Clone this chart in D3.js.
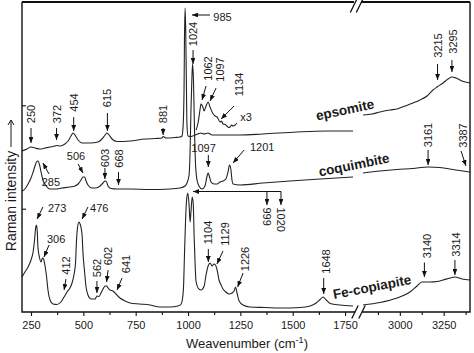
<!DOCTYPE html>
<html>
<head>
<meta charset="utf-8">
<script src="https://cdn.jsdelivr.net/npm/d3@7"></script>
<style>
  body { margin: 0; background: #fff; }
  svg { display: block; font-family: 'Liberation Sans', Arial, sans-serif; }
</style>
</head>
<body>
<svg id="chart" width="474" height="353"></svg>
<script>
// broken wavenumber axis: two segments
const lowDomain = [207, 1788];
const highDomain = [2790, 3400];
const lowTicks = [250, 500, 750, 1000, 1250, 1500, 1750];
const lowMinor = [375, 625, 875, 1125, 1375, 1625];
const highTicks = [3000, 3250];
const highMinor = [2875, 3125, 3375];
const intensityTicks = [103.3, 206.7];

// spectra: [wavenumber, intensity (a.u., stacked)]
const epsomiteLow = [
  [207, 161], [231, 163], [250, 165], [269, 164], [293, 163], [317, 164], [341, 165], [365, 166],
  [374, 166.5], [389, 166], [412, 168], [427, 171], [441, 176], [451, 179], [460, 177], [475, 172],
  [494, 169], [532, 169], [570, 170], [589, 173], [604, 177], [613, 179], [623, 177], [637, 173],
  [661, 170.5], [723, 171], [795, 173], [847, 173.5], [876, 174], [881, 175.5], [895, 174],
  [938, 174.5], [962, 175], [971, 176], [976, 184], [981, 222], [983, 272], [986, 304], [989, 282],
  [992, 232], [995, 187], [1000, 176], [1014, 175.5], [1034, 177], [1048, 178], [1062, 179],
  [1077, 178], [1096, 179], [1115, 177], [1153, 177], [1249, 177], [1358, 178], [1521, 180],
  [1664, 181], [1788, 181]
];
const epsomiteInset = [
  [1038, 182], [1048, 189], [1057, 202], [1062, 208], [1069, 206], [1077, 201], [1086, 206],
  [1096, 210], [1105, 205], [1120, 198], [1129, 196], [1139, 195], [1153, 190], [1160, 191],
  [1167, 188], [1177, 187.5], [1186, 186], [1194, 184.5], [1201, 185], [1208, 187], [1215, 186],
  [1225, 187], [1234, 189]
];
const epsomiteHigh = [
  [2790, 197], [2841, 198], [2887, 200], [2944, 202], [2984, 203], [3029, 206], [3075, 209],
  [3115, 212], [3155, 216], [3189, 222], [3212, 225], [3246, 229], [3275, 233], [3297, 235],
  [3320, 234], [3354, 231], [3400, 229]
];
const coquimbiteLow = [
  [207, 121], [221, 123], [236, 128], [250, 134], [260, 140], [269, 146], [276, 150], [283, 151],
  [291, 147], [298, 140], [307, 132], [322, 126], [341, 123], [365, 123], [398, 124], [436, 125],
  [460, 126], [475, 128], [489, 132], [498, 135], [506, 135], [513, 131], [522, 127], [541, 124],
  [560, 124], [580, 126], [594, 129], [604, 131], [611, 130], [618, 126], [632, 123.5], [661, 123],
  [723, 123], [818, 122.5], [914, 123], [962, 124], [986, 126], [995, 129], [1005, 137],
  [1010, 162], [1014, 202], [1019, 237], [1022, 248], [1026, 232], [1031, 182], [1036, 147],
  [1043, 132], [1052, 126], [1067, 123], [1081, 126], [1091, 136], [1096, 139], [1100, 137],
  [1110, 130], [1124, 128], [1139, 128], [1153, 130], [1167, 131], [1181, 133], [1191, 140],
  [1198, 147], [1205, 142], [1210, 132], [1215, 128], [1249, 127], [1358, 129], [1487, 131],
  [1630, 133], [1788, 135]
];
const coquimbiteHigh = [
  [2790, 139], [2887, 141], [2984, 142.5], [3075, 143.5], [3161, 145], [3229, 144.5],
  [3303, 142.5], [3360, 141], [3400, 140]
];
const copiapiteLow = [
  [207, 35], [221, 40], [236, 45], [250, 52], [260, 60], [267, 72], [272, 84], [276, 87], [280, 80],
  [283, 65], [291, 54], [298, 50], [305, 54], [310, 53], [317, 46], [324, 36], [331, 22], [341, 12],
  [355, 8], [374, 7.5], [393, 10], [408, 15], [422, 20], [436, 24], [446, 29], [455, 37], [463, 50],
  [467, 70], [472, 84], [479, 90], [486, 87], [494, 77], [498, 60], [506, 40], [513, 25], [522, 17],
  [537, 13], [556, 13], [565, 16], [575, 15.5], [584, 19], [594, 23], [604, 26], [611, 26],
  [618, 24], [627, 22], [642, 21], [656, 18], [675, 14], [699, 11], [723, 9], [771, 8], [818, 7],
  [866, 5], [914, 5], [952, 6], [967, 8], [974, 14], [979, 27], [983, 57], [988, 90], [993, 112],
  [999, 119], [1005, 107], [1010, 90], [1014, 100], [1020, 115], [1025, 108], [1029, 77],
  [1034, 47], [1038, 31], [1048, 24], [1062, 22], [1077, 26], [1086, 37], [1096, 46], [1105, 49],
  [1115, 46], [1124, 48], [1131, 47], [1139, 42], [1148, 32], [1158, 27], [1167, 23], [1181, 20],
  [1196, 18], [1210, 19], [1220, 21], [1227, 25], [1234, 19], [1244, 11], [1263, 7], [1296, 5],
  [1368, 4.5], [1440, 4], [1535, 4.5], [1583, 6], [1612, 9], [1631, 12.5], [1645, 15], [1660, 12],
  [1679, 8.5], [1726, 7], [1788, 6]
];
const copiapiteHigh = [
  [2790, 7], [2887, 9.5], [2984, 14], [3058, 20], [3098, 26], [3126, 30], [3172, 30],
  [3212, 30.5], [3246, 32], [3286, 34], [3314, 35], [3354, 33], [3400, 32]
];

// [text, segment, label wn, label intensity, rotation, anchor, tail wn, tail int, head wn, head int]
const peakLabels = [
  ['250', 'low', 250, 198, -90, 'middle', 250, 184, 250, 169],
  ['372', 'low', 372, 198, -90, 'middle', 372, 184, 372, 172],
  ['454', 'low', 454, 209.5, -90, 'middle', 454, 195, 454, 181],
  ['615', 'low', 615, 214, -90, 'middle', 615, 199, 615, 181],
  ['881', 'low', 881, 198, -90, 'middle', 881, 184, 881, 177],
  ['985', 'low', 1121, 295, 0, 'start', 1105, 297, 1019, 297],
  ['1024', 'low', 1024, 278, -90, 'middle', 1024, 262, 1024, 248],
  ['1062', 'low', 1096, 243.5, -90, 'middle', 1086, 226, 1067, 212],
  ['1097', 'low', 1153, 242.5, -90, 'middle', 1134, 224, 1105, 211],
  ['1134', 'low', 1244, 227.5, -90, 'middle', 1220, 206, 1158, 193],
  ['285', 'low', 345, 130, 0, 'middle', 336, 138, 307, 149],
  ['506', 'low', 465, 156, 0, 'middle', 475, 148, 498, 139],
  ['603', 'low', 603, 154, -90, 'middle', 603, 144, 603, 133],
  ['668', 'low', 668, 153.5, -90, 'middle', 668, 140, 668, 127],
  ['1097', 'low', 1074, 164, 0, 'middle', 1097, 157, 1097, 145],
  ['1201', 'low', 1296, 165, 0, 'start', 1268, 162, 1215, 149],
  ['3161', 'high', 3161, 177, -90, 'middle', 3161, 162, 3161, 147],
  ['3387', 'high', 3360, 176.5, -90, 'middle', 3349, 161, 3377, 146],
  ['3215', 'high', 3215, 266.5, -90, 'middle', 3215, 248, 3215, 232],
  ['3295', 'high', 3303, 270.5, -90, 'middle', 3297, 252, 3297, 240],
  ['273', 'low', 331, 104, 0, 'start', 307, 105, 279, 93],
  ['476', 'low', 532, 104.5, 0, 'start', 522, 105, 494, 93],
  ['306', 'low', 326, 73, 0, 'start', 336, 67, 312, 55],
  ['412', 'low', 417, 46.5, -90, 'middle', 417, 33, 408, 22],
  ['562', 'low', 565, 44, -90, 'middle', 565, 31, 565, 19],
  ['602', 'low', 618, 56, -90, 'middle', 618, 42, 611, 30],
  ['641', 'low', 704, 48, -90, 'middle', 685, 34, 661, 22],
  ['1104', 'low', 1097, 79.5, -90, 'middle', 1097, 63, 1097, 50],
  ['1129', 'low', 1177, 78, -90, 'middle', 1167, 61, 1138, 48],
  ['1226', 'low', 1272, 53, -90, 'middle', 1263, 39, 1237, 25],
  ['1648', 'low', 1659, 50.5, -90, 'middle', 1648, 34, 1648, 18],
  ['3140', 'high', 3155, 66, -90, 'middle', 3140, 49.5, 3140, 35],
  ['3314', 'high', 3320, 67.5, -90, 'middle', 3314, 52, 3314, 37]
];
// Fe-copiapite doublet bracket
const bracketLevel = 120.5;
const bracketEnd = 1024;
const bracketDrops = [[1377, '999'], [1444, '1020']];
const speciesLabels = [
  ['epsomite', 1750, 202, -12],
  ['coquimbite', 1793, 147, -11.5],
  ['Fe-copiapite', 1879, 25, -11]
];

const svg = d3.select('#chart');

const xLow = d3.scaleLinear().domain(lowDomain).range([22, 353]);
const xHigh = d3.scaleLinear().domain(highDomain).range([363, 470]);
const y = d3.scaleLinear().domain([0, 310]).range([312, 2]);
const xOf = (seg) => seg === 'high' ? xHigh : xLow;

svg.append('defs').append('marker')
  .attr('id', 'head')
  .attr('viewBox', '0 0 10 8')
  .attr('refX', 10)
  .attr('refY', 4)
  .attr('markerWidth', 6)
  .attr('markerHeight', 4.8)
  .attr('markerUnits', 'userSpaceOnUse')
  .attr('orient', 'auto')
  .append('path')
  .attr('d', 'M0,0L10,4L0,8Z')
  .attr('fill', '#111');

// spectra
const spectrum = (x) => d3.line()
  .x((d) => x(d[0]))
  .y((d) => y(d[1]))
  .curve(d3.curveMonotoneX);

[
  [epsomiteLow, xLow], [epsomiteInset, xLow], [epsomiteHigh, xHigh],
  [coquimbiteLow, xLow], [coquimbiteHigh, xHigh],
  [copiapiteLow, xLow], [copiapiteHigh, xHigh]
].forEach(([data, x]) => {
  svg.append('path')
    .datum(data)
    .attr('fill', 'none')
    .attr('stroke', '#222')
    .attr('stroke-width', 1.1)
    .attr('stroke-linejoin', 'round')
    .attr('d', spectrum(x));
});

// axes
const axisG = (axis) => {
  const g = svg.append('g')
    .attr('transform', `translate(0, ${y(0)})`)
    .call(axis)
    .attr('font-size', 11)
    .attr('font-family', null);
  g.select('.domain').remove();
  g.selectAll('.tick line').attr('stroke', '#111').attr('stroke-width', 1.1);
  g.selectAll('.tick text').attr('fill', '#1a1a1a');
  return g;
};

axisG(d3.axisBottom(xLow).tickValues(lowTicks).tickSize(4).tickPadding(5).tickFormat(d3.format('d')));
axisG(d3.axisBottom(xLow).tickValues(lowMinor).tickSize(3).tickFormat(''));
axisG(d3.axisBottom(xHigh).tickValues(highTicks).tickSize(4).tickPadding(5).tickFormat(d3.format('d')));
axisG(d3.axisBottom(xHigh).tickValues(highMinor).tickSize(3).tickFormat(''));

const yAxis = svg.append('g')
  .attr('transform', `translate(${xLow.range()[0]}, 0)`)
  .call(d3.axisLeft(y).tickValues(intensityTicks).tickSize(-4).tickFormat(''));
yAxis.select('.domain').remove();
yAxis.selectAll('.tick line').attr('stroke', '#111').attr('stroke-width', 1.1);

// frame with break
const fLeft = xLow.range()[0];
const fRight = xHigh.range()[1];
const fTop = y.range()[1];
const fBottom = y.range()[0];
const frame = svg.append('g')
  .attr('fill', 'none')
  .attr('stroke', '#111')
  .attr('stroke-width', 1.4);
frame.append('path')
  .attr('d', `M355,${fBottom}H${fLeft}V${fTop}`);
frame.append('path')
  .attr('d', `M${fRight},${fTop}V${fBottom}H362`);
frame.append('path')
  .attr('d', `M${fLeft},${fTop}H354M361,${fTop}H${fRight}`)
  .attr('stroke-width', 2.2);

const slashes = svg.append('g')
  .attr('stroke', '#111')
  .attr('stroke-width', 1.3);
[[355, fBottom], [362, fBottom], [353.5, 6], [359.5, 6]].forEach(([cx, cy]) => {
  slashes.append('line')
    .attr('x1', cx - 3.2).attr('y1', cy + 6.5)
    .attr('x2', cx + 3.2).attr('y2', cy - 6.5);
});

// peak annotations
const notes = svg.append('g')
  .attr('font-size', 11)
  .attr('fill', '#1a1a1a');

peakLabels.forEach(([t, seg, lx, ly, rot, anchor, ax0, ay0, ax1, ay1]) => {
  const x = xOf(seg);
  notes.append('text')
    .attr('transform', `translate(${x(lx)}, ${y(ly)}) rotate(${rot})`)
    .attr('text-anchor', anchor)
    .attr('dominant-baseline', 'central')
    .text(t);
  notes.append('line')
    .attr('x1', x(ax0)).attr('y1', y(ay0))
    .attr('x2', x(ax1)).attr('y2', y(ay1))
    .attr('stroke', '#111')
    .attr('stroke-width', 1)
    .attr('marker-end', 'url(#head)');
});

notes.append('text')
  .attr('x', xLow(1249))
  .attr('y', y(195))
  .attr('dominant-baseline', 'central')
  .text('x3');

const lastDrop = bracketDrops[bracketDrops.length - 1][0];
notes.append('line')
  .attr('x1', xLow(lastDrop)).attr('y1', y(bracketLevel))
  .attr('x2', xLow(bracketEnd)).attr('y2', y(bracketLevel))
  .attr('stroke', '#111')
  .attr('stroke-width', 1)
  .attr('marker-end', 'url(#head)');

bracketDrops.forEach(([wn, t]) => {
  notes.append('line')
    .attr('x1', xLow(wn)).attr('y1', y(bracketLevel))
    .attr('x2', xLow(wn)).attr('y2', y(bracketLevel - 13.5))
    .attr('stroke', '#111')
    .attr('stroke-width', 1)
    .attr('marker-end', 'url(#head)');
  notes.append('text')
    .attr('transform', `translate(${xLow(wn)}, ${y(bracketLevel - 16)}) rotate(90)`)
    .attr('text-anchor', 'start')
    .attr('dominant-baseline', 'central')
    .text(t);
});

// species names
speciesLabels.forEach(([t, wn, h, rot]) => {
  svg.append('text')
    .attr('transform', `translate(${xLow(wn)}, ${y(h)}) rotate(${rot})`)
    .attr('text-anchor', 'middle')
    .attr('dominant-baseline', 'central')
    .attr('font-size', 13.5)
    .attr('font-weight', 'bold')
    .attr('fill', '#1a1a1a')
    .text(t);
});

// axis titles
const xTitle = svg.append('text')
  .attr('x', 247)
  .attr('y', 347.5)
  .attr('text-anchor', 'middle')
  .attr('font-size', 13)
  .attr('fill', '#1a1a1a');
xTitle.append('tspan').text('Weavenumber (cm');
xTitle.append('tspan').attr('dy', -5).attr('font-size', 9).text('-1');
xTitle.append('tspan').attr('dy', 5).text(')');

svg.append('text')
  .attr('transform', 'translate(11, 201) rotate(-90)')
  .attr('text-anchor', 'middle')
  .attr('dominant-baseline', 'central')
  .attr('font-size', 14)
  .attr('fill', '#1a1a1a')
  .text('Raman intensity');

svg.append('path')
  .attr('d', 'M11,147V120M8,125L11,120L14,125')
  .attr('fill', 'none')
  .attr('stroke', '#1a1a1a')
  .attr('stroke-width', 1);
</script>
</body>
</html>
